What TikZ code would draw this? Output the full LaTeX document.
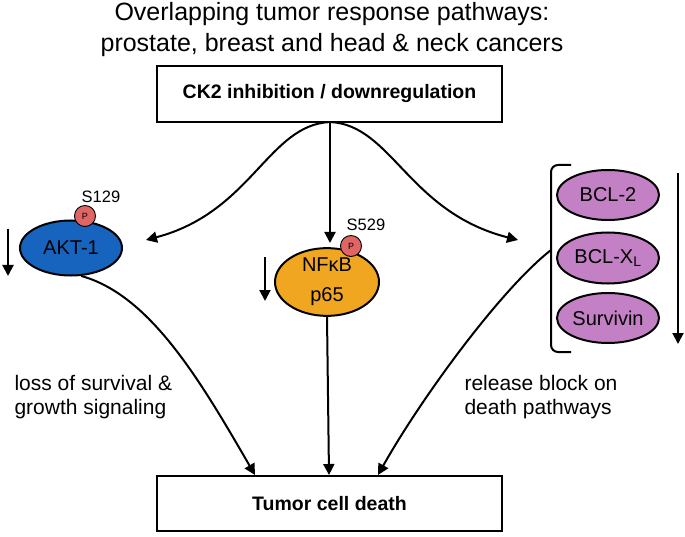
\documentclass[tikz,border=0pt]{standalone}
\usepackage{fontspec}
\setmainfont{Liberation Sans}
\usetikzlibrary{arrows.meta,shapes.geometric}
\definecolor{aktblue}{RGB}{22,100,190}
\definecolor{nforange}{RGB}{240,166,32}
\definecolor{bclpurple}{RGB}{196,128,196}
\definecolor{pred}{RGB}{224,102,102}
\tikzset{
  conn/.style={line width=2pt,-{Triangle[length=11pt,width=11pt]}},
  plain/.style={line width=2pt},
  mainbox/.style={draw,line width=2pt,minimum width=345pt,minimum height=56pt,font=\bfseries\fontsize{19.5}{22}\selectfont},
  prot/.style={ellipse,draw,line width=2pt,inner sep=0pt,font=\fontsize{20}{21}\selectfont},
  phos/.style={circle,draw,line width=0.9pt,fill=pred,minimum size=21pt,inner sep=0pt,font=\fontsize{9}{10}\selectfont},
  site/.style={font=\fontsize{16.5}{18}\selectfont},
  lbl/.style={align=left,anchor=west,font=\fontsize{21}{24}\selectfont},
}
\begin{document}
\begin{tikzpicture}[x=1pt,y=-1pt]
\useasboundingbox (0,0) rectangle (685,537);
\node[font=\fontsize{25}{31}\selectfont,align=center] (title) at (332,30) {Overlapping tumor response pathways:\\prostate, breast and head \& neck cancers};
\node[mainbox] (ck2) at (329.5,94) {CK2 inhibition / downregulation};
\node[mainbox,minimum height=55pt] (death) at (329.5,503.5) {Tumor cell death};
% AKT
\node[prot,fill=aktblue,minimum width=102pt,minimum height=55pt] (akt) at (71,248) {AKT-1};
\node[phos] (p1) at (85,216) {P};
\node[site] (s1) at (101,197) {S129};
\coordinate (akttop) at (8,229);
\coordinate (aktbot) at (8,276);
\draw[conn] (akttop) -- (aktbot);
% NFkB
\node[prot,fill=nforange,minimum width=104pt,minimum height=64pt,align=center,font=\fontsize{20}{30}\selectfont] (nfkb) at (327,282) {NFκB\\p65};
\node[phos] (p2) at (351,246) {P};
\node[site] (s2) at (366,225) {S529};
\coordinate (nftop) at (265,257);
\coordinate (nfbot) at (265,301);
\draw[conn] (nftop) -- (nfbot);
% BCL group
\node[prot,fill=bclpurple,minimum width=102pt,minimum height=50pt] (bcl2) at (608,195) {BCL-2};
\node[prot,fill=bclpurple,minimum width=102pt,minimum height=51pt] (bclx) at (608,258) {BCL-X\textsubscript{L}};
\node[prot,fill=bclpurple,minimum width=102pt,minimum height=50pt] (surv) at (608,318) {Survivin};
\coordinate (brtop) at (571,165);
\coordinate (brbot) at (571,352);
\coordinate (brmid) at (551,250);
\draw[plain,rounded corners=7pt] (brtop) -- (551,165) -- (551,352) -- (brbot);
\coordinate (bcltop) at (678,173);
\coordinate (bclbot) at (678,344);
\draw[conn] (bcltop) -- (bclbot);
% arrows from CK2
\coordinate (ckout) at (330,122);
\coordinate (aktin) at (146,240);
\coordinate (bclin) at (518,240);
\draw[conn] (ckout) .. controls (268,125) and (252,212) .. (aktin);
\draw[conn] (ckout) .. controls (392,125) and (408,212) .. (bclin);
\draw[conn] (ckout) -- (330,243);
% arrows to death
\draw[conn] (akt.290) .. controls (150,295) and (200,380) .. (255,475);
\draw[conn] (nfkb.south) -- (329,475);
\draw[conn] (brmid) .. controls (500,290) and (420,400) .. (378,475);
% labels
\node[lbl] (l1) at (11,397) {loss of survival \&\\growth signaling};
\node[lbl] (l2) at (461,397) {release block on\\death pathways};
\end{tikzpicture}
\end{document}
